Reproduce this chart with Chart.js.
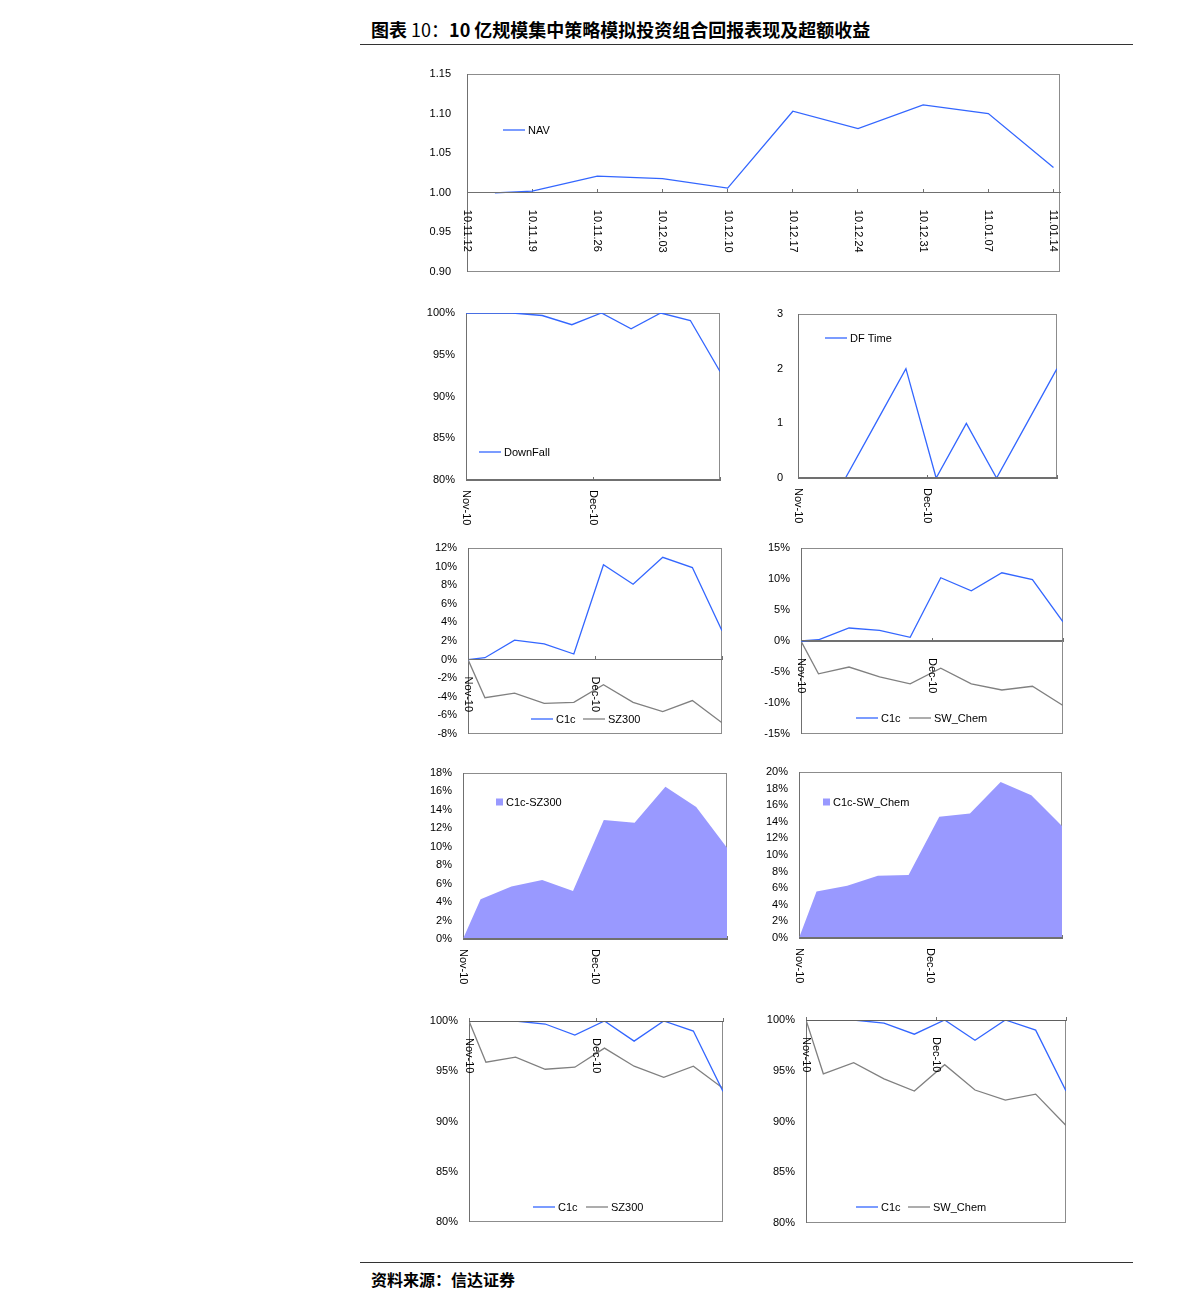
<!DOCTYPE html>
<html><head><meta charset="utf-8">
<script src="https://cdn.jsdelivr.net/npm/chart.js@4.4.1/dist/chart.umd.min.js"></script>
<style>
html,body{margin:0;padding:0;background:#fff;}
body{width:1191px;height:1308px;position:relative;overflow:hidden;font-family:"Liberation Sans",Arial,sans-serif;}
canvas{position:absolute;}
#title{position:absolute;left:371px;top:18px;font-family:"Noto Sans CJK SC",sans-serif;font-size:18px;line-height:22px;font-weight:bold;color:#000;white-space:nowrap;}
#source{position:absolute;left:371px;top:1268px;font-family:"Noto Sans CJK SC",sans-serif;font-size:16px;line-height:22px;font-weight:bold;color:#000;white-space:nowrap;}
.rule{position:absolute;left:360px;width:773px;height:1px;background:#333;}
</style></head>
<body>
<div id="title"><span>图表</span><span style="font-weight:normal"> 10：</span>10 亿规模集中策略模拟投资组合回报表现及超额收益</div>
<div class="rule" style="top:44px"></div>
<div class="rule" style="top:1262px"></div>
<div id="source">资料来源：信达证券</div>
<script>
// ---------- data ----------
const dates = ['2010-11-15','2010-11-19','2010-11-26','2010-12-03','2010-12-10','2010-12-17','2010-12-24','2010-12-31','2011-01-07','2011-01-14'];
const nav = [1.000, 1.002, 1.021, 1.018, 1.006, 1.103, 1.081, 1.111, 1.100, 1.032];
const downFall = [100, 100, 100, 99.7, 98.6, 100, 98.1, 100, 99.1, 93.0];
const dfTime = [0, 0, 0, 1, 2, 0, 1, 0, 1, 2];
const c1c = [0, 0.2, 2.1, 1.7, 0.6, 10.2, 8.1, 11.0, 9.9, 3.1];
const sz300 = [0, -4.1, -3.6, -4.7, -4.6, -2.7, -4.6, -5.6, -4.4, -6.8];
const swChem = [0, -5.3, -4.2, -5.8, -6.9, -4.4, -6.9, -7.9, -7.3, -10.4];
const exSz300 = [0, 4.3, 5.7, 6.4, 5.2, 12.9, 12.6, 16.5, 14.3, 9.9];
const exSwChem = [0, 5.6, 6.3, 7.5, 7.6, 14.6, 15.0, 18.8, 17.2, 13.5];
const c1cDD = [100, 100, 100, 99.7, 98.6, 100, 98.0, 100, 99.0, 93.0];
const sz300DD = [100, 95.9, 96.4, 95.2, 95.4, 97.3, 95.5, 94.4, 95.5, 93.3];
const swChemDD = [100, 94.7, 95.8, 94.2, 93.0, 95.6, 93.1, 92.1, 92.7, 89.6];

const topTickDates = ['2010-11-12','2010-11-19','2010-11-26','2010-12-03','2010-12-10','2010-12-17','2010-12-24','2010-12-31','2011-01-07','2011-01-14'];
const topTickLabels = ['10.11.12','10.11.19','10.11.26','10.12.03','10.12.10','10.12.17','10.12.24','10.12.31','11.01.07','11.01.14'];
const monthTickDates = ['2010-11-15','2010-12-15'];
const monthTickLabels = ['Nov-10','Dec-10'];
const monthEndDate = '2011-01-14';

// ---------- helpers ----------
const DAY = 86400000;
const dayOf = (base, d) => (Date.parse(d) - Date.parse(base)) / DAY;
const TOP_BASE = '2010-11-12', LOW_BASE = '2010-11-15';
const pts = (base, vals) => vals.map((v, i) => ({x: dayOf(base, dates[i]), y: v}));

const BLUE = '#3366FF', GRAY = '#808080', AREA = '#9999FF', FRAME = '#8c8c8c', AXIS = '#707070';
const FONT = '11px "Liberation Sans", Arial, sans-serif';
Chart.defaults.font.family = '"Liberation Sans", Arial, sans-serif';
Chart.defaults.font.size = 11;
Chart.defaults.color = '#000';
Chart.defaults.animation = false;

const decor = {
  id: 'decor',
  beforeDatasetsDraw(chart, args, o) {
    const {ctx, chartArea: a} = chart;
    ctx.save();
    ctx.strokeStyle = FRAME; ctx.lineWidth = 1;
    ctx.strokeRect(a.left + 0.5, a.top + 0.5, a.right - a.left - 1, a.bottom - a.top - 1);
    ctx.strokeStyle = AXIS;
    ctx.beginPath(); ctx.moveTo(a.left + 0.5, a.top); ctx.lineTo(a.left + 0.5, a.bottom); ctx.stroke();
    ctx.restore();
  },
  afterDraw(chart, args, o) {
    const {ctx, chartArea: a} = chart;
    const xs = chart.scales.x, ys = chart.scales.y;
    ctx.save();
    // axis line redrawn on top
    const ay = Math.round(ys.getPixelForValue(o.axisValue)) + (o.axisValue === ys.max ? 0.5 : -0.5);
    ctx.strokeStyle = o.axisColor || AXIS; ctx.lineWidth = 1;
    ctx.beginPath(); ctx.moveTo(a.left, ay); ctx.lineTo(a.right, ay); ctx.stroke();
    // rotated category labels (clockwise, reading top to bottom)
    ctx.font = FONT; ctx.fillStyle = '#000'; ctx.textAlign = 'left'; ctx.textBaseline = 'middle';
    const y0 = ys.getPixelForValue(o.axisValue) + o.offset;
    o.labels.forEach((lab, i) => {
      const x = xs.getPixelForValue(o.labelPos[i]);
      ctx.save(); ctx.translate(x, y0); ctx.rotate(Math.PI / 2); ctx.fillText(lab, 0, 0); ctx.restore();
    });
    // legend
    o.legend.forEach((it, i) => {
      const ds = chart.data.datasets[i];
      const lx = a.left + it.dx, ly = a.top + it.dy;
      if (ds.fill) {
        ctx.fillStyle = ds.backgroundColor; ctx.fillRect(lx, ly - 3.5, 7, 7);
        ctx.fillStyle = '#000'; ctx.fillText(ds.label, lx + 10, ly + 0.5);
      } else {
        ctx.strokeStyle = ds.borderColor; ctx.lineWidth = 1.3;
        ctx.beginPath(); ctx.moveTo(lx, ly); ctx.lineTo(lx + 22, ly); ctx.stroke();
        ctx.fillStyle = '#000'; ctx.fillText(ds.label, lx + 25, ly + 0.5);
      }
    });
    ctx.restore();
  }
};

function lineDs(label, base, vals, color) {
  return {label, data: pts(base, vals), borderColor: color, backgroundColor: color, borderWidth: 1.3, pointRadius: 0, tension: 0, fill: false};
}
function areaDs(label, base, vals) {
  return {label, data: pts(base, vals), borderColor: AREA, backgroundColor: AREA, borderWidth: 0, pointRadius: 0, tension: 0, fill: 'origin'};
}

function makeChart(rect, datasets, y, x, d) {
  const [L, T, R, B] = rect;
  const padL = 70, padT = 30, padR = 14, padB = 64;
  const c = document.createElement('canvas');
  c.width = R - L + padL + padR; c.height = B - T + padT + padB;
  c.style.left = (L - padL) + 'px'; c.style.top = (T - padT) + 'px';
  document.body.appendChild(c);
  new Chart(c, {
    type: 'line',
    data: {datasets},
    options: {
      responsive: false, animation: false,
      layout: {padding: {left: 0, top: padT, right: padR, bottom: padB}},
      plugins: {legend: {display: false}, tooltip: {enabled: false}, decor: d},
      scales: {
        x: {
          type: 'linear', min: x.min, max: x.max, position: {y: d.axisValue},
          afterFit: s => { s.height = 0; },
          afterBuildTicks: s => { s.ticks = x.ticks.map(v => ({value: v})); },
          ticks: {display: false},
          grid: {drawOnChartArea: false, color: AXIS, tickLength: -4, tickWidth: 1},
          border: {display: true, color: AXIS, width: 1}
        },
        y: {
          type: 'linear', position: 'left', min: y.min, max: y.max,
          afterFit: s => { s.width = padL; },
          ticks: {stepSize: y.step, callback: y.fmt, padding: y.pad || 11, color: '#000', font: {size: 11}},
          grid: {display: true, drawOnChartArea: false, drawTicks: false},
          border: {display: false}
        }
      }
    },
    plugins: [decor]
  });
}

const pct = v => Math.round(v) + '%';
const lowX = {min: 0, max: dayOf(LOW_BASE, monthEndDate), ticks: [...monthTickDates, monthEndDate].map(dd => dayOf(LOW_BASE, dd))};
const lowLabelPos = monthTickDates.map(dd => dayOf(LOW_BASE, dd));

// 1. NAV
makeChart([467, 74, 1060, 272],
  [lineDs('NAV', TOP_BASE, nav, BLUE)],
  {min: 0.90, max: 1.15, step: 0.05, fmt: v => v.toFixed(2), pad: 16},
  {min: 0, max: 63.7, ticks: topTickDates.map(dd => dayOf(TOP_BASE, dd))},
  {axisValue: 1.00, offset: 17, labels: topTickLabels, labelPos: topTickDates.map(dd => dayOf(TOP_BASE, dd)), legend: [{dx: 36, dy: 56}]});

// 2L. DownFall
makeChart([466, 313, 720, 480],
  [lineDs('DownFall', LOW_BASE, downFall, BLUE)],
  {min: 80, max: 100, step: 5, fmt: pct},
  lowX,
  {axisValue: 80, offset: 10, labels: monthTickLabels, labelPos: lowLabelPos, legend: [{dx: 13, dy: 139}]});

// 2R. DF Time
makeChart([798, 314, 1057, 478],
  [lineDs('DF Time', LOW_BASE, dfTime, BLUE)],
  {min: 0, max: 3, step: 1, fmt: v => String(v), pad: 15},
  lowX,
  {axisValue: 0, offset: 10, labels: monthTickLabels, labelPos: lowLabelPos, legend: [{dx: 27, dy: 24}]});

// 3L. C1c vs SZ300
makeChart([468, 548, 722, 734],
  [lineDs('C1c', LOW_BASE, c1c, BLUE), lineDs('SZ300', LOW_BASE, sz300, GRAY)],
  {min: -8, max: 12, step: 2, fmt: pct},
  lowX,
  {axisValue: 0, offset: 17, labels: monthTickLabels, labelPos: lowLabelPos, legend: [{dx: 63, dy: 171}, {dx: 115, dy: 171}]});

// 3R. C1c vs SW_Chem
makeChart([801, 548, 1063, 734],
  [lineDs('C1c', LOW_BASE, c1c, BLUE), lineDs('SW_Chem', LOW_BASE, swChem, GRAY)],
  {min: -15, max: 15, step: 5, fmt: pct},
  lowX,
  {axisValue: 0, offset: 17, labels: monthTickLabels, labelPos: lowLabelPos, legend: [{dx: 55, dy: 170}, {dx: 108, dy: 170}]});

// 4L. C1c-SZ300 excess
makeChart([463, 773, 727, 939],
  [areaDs('C1c-SZ300', LOW_BASE, exSz300)],
  {min: 0, max: 18, step: 2, fmt: pct},
  lowX,
  {axisValue: 0, offset: 10, labels: monthTickLabels, labelPos: lowLabelPos, legend: [{dx: 33, dy: 29}]});

// 4R. C1c-SW_Chem excess
makeChart([799, 772, 1062, 938],
  [areaDs('C1c-SW_Chem', LOW_BASE, exSwChem)],
  {min: 0, max: 20, step: 2, fmt: pct},
  lowX,
  {axisValue: 0, offset: 10, labels: monthTickLabels, labelPos: lowLabelPos, legend: [{dx: 24, dy: 30}]});

// 5L. drawdown C1c vs SZ300
makeChart([469, 1021, 723, 1222],
  [lineDs('C1c', LOW_BASE, c1cDD, BLUE), lineDs('SZ300', LOW_BASE, sz300DD, GRAY)],
  {min: 80, max: 100, step: 5, fmt: pct},
  lowX,
  {axisValue: 100, offset: 17, axisColor: '#606060', labels: monthTickLabels, labelPos: lowLabelPos, legend: [{dx: 64, dy: 186}, {dx: 117, dy: 186}]});

// 5R. drawdown C1c vs SW_Chem
makeChart([806, 1020, 1066, 1223],
  [lineDs('C1c', LOW_BASE, c1cDD, BLUE), lineDs('SW_Chem', LOW_BASE, swChemDD, GRAY)],
  {min: 80, max: 100, step: 5, fmt: pct},
  lowX,
  {axisValue: 100, offset: 17, axisColor: '#606060', labels: monthTickLabels, labelPos: lowLabelPos, legend: [{dx: 50, dy: 187}, {dx: 102, dy: 187}]});
</script>
</body></html>
